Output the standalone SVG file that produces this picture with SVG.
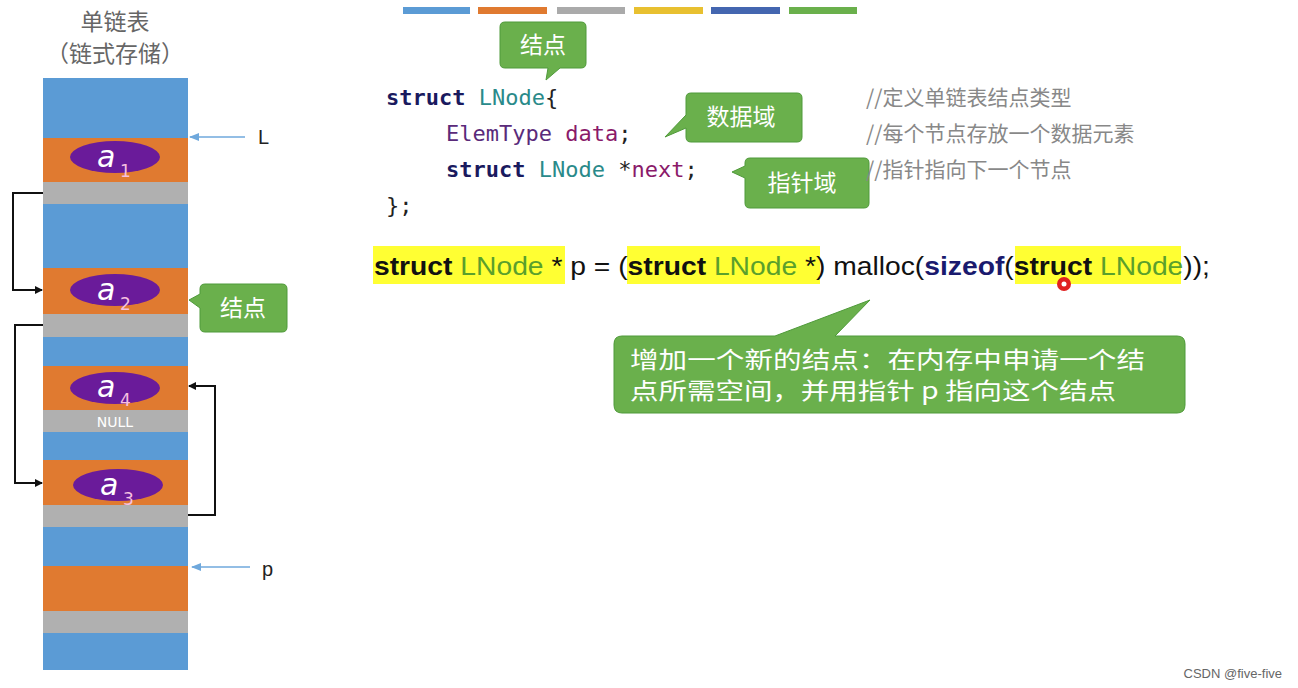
<svg xmlns="http://www.w3.org/2000/svg" width="1298" height="688" viewBox="0 0 1298 688">
<style>
.b{fill:#5b9bd5}.o{fill:#e07a30}.g{fill:#b0b0b0}
.e{fill:#6a1b9a}
.a{font-family:"DejaVu Sans",sans-serif;font-style:italic;fill:#fff;font-size:30px}
.sub{font-family:"DejaVu Sans",sans-serif;fill:#f6c0e0;font-size:17px}
.s{font-family:"DejaVu Sans",sans-serif;fill:#fff;font-size:14px}
.cn{font-family:"Noto Sans CJK SC",sans-serif}
.cb{fill:#6ab04c;stroke:#4f9a3a;stroke-width:1}
.ct{font-family:"Noto Sans CJK SC",sans-serif;fill:#fff;font-size:23px}
.code{font-family:"DejaVu Sans Mono",monospace;font-size:22px}
.cm{font-family:"Noto Sans CJK SC",sans-serif;font-size:21px;fill:#888}
.ln{font-family:"Liberation Sans",sans-serif;font-size:25px}
.k{fill:none;stroke:#111;stroke-width:2}
</style>
<defs>
<marker id="ah" markerWidth="8" markerHeight="8" refX="7" refY="4" orient="auto" markerUnits="userSpaceOnUse"><path d="M0,0L8,4L0,8z" fill="#111"/></marker>
<marker id="bh" markerWidth="10" markerHeight="8" refX="9" refY="4" orient="auto" markerUnits="userSpaceOnUse"><path d="M0,0L10,4L0,8z" fill="#6fa8dc"/></marker>
</defs>
<rect width="1298" height="688" fill="#fff"/>
<g id="title"><text x="115" y="30" text-anchor="middle" class="cn" font-size="23" fill="#666">单链表</text><text x="115" y="62" text-anchor="middle" class="cn" font-size="23" fill="#666">（链式存储）</text></g>
<g id="memory">
<rect class="b" x="43" y="78" width="145" height="60"/>
<rect class="o" x="43" y="138" width="145" height="44"/>
<rect class="g" x="43" y="182" width="145" height="22"/>
<rect class="b" x="43" y="204" width="145" height="64"/>
<rect class="o" x="43" y="268" width="145" height="46"/>
<rect class="g" x="43" y="314" width="145" height="23"/>
<rect class="b" x="43" y="337" width="145" height="29"/>
<rect class="o" x="43" y="366" width="145" height="44"/>
<rect class="g" x="43" y="410" width="145" height="22"/>
<rect class="b" x="43" y="432" width="145" height="28"/>
<rect class="o" x="43" y="460" width="145" height="45"/>
<rect class="g" x="43" y="505" width="145" height="22"/>
<rect class="b" x="43" y="527" width="145" height="39"/>
<rect class="o" x="43" y="566" width="145" height="45"/>
<rect class="g" x="43" y="611" width="145" height="22"/>
<rect class="b" x="43" y="633" width="145" height="37"/>
<text x="115" y="427" text-anchor="middle" class="s">NULL</text>
</g>
<g id="a1"><ellipse class="e" cx="115" cy="157" rx="45" ry="16"/><text x="97" y="167" class="a">a</text><text x="120" y="177" class="sub">1</text></g>
<g id="a2"><ellipse class="e" cx="115" cy="290" rx="45" ry="16"/><text x="97" y="300" class="a">a</text><text x="120" y="310" class="sub">2</text></g>
<g id="a4"><ellipse class="e" cx="115" cy="388" rx="45" ry="16"/><text x="97" y="397" class="a">a</text><text x="120" y="406" class="sub">4</text></g>
<g id="a3"><ellipse class="e" cx="118" cy="485" rx="45" ry="16"/><text x="100" y="495" class="a">a</text><text x="123" y="505" class="sub">3</text></g>
<g id="connectors">
<path class="k" d="M43,193H13V290H42" marker-end="url(#ah)"/>
<path class="k" d="M43,325H15V483H42" marker-end="url(#ah)"/>
<path class="k" d="M188,515H215V386H189" marker-end="url(#ah)"/>
<path d="M245,137H190" stroke="#6fa8dc" stroke-width="1.5" marker-end="url(#bh)"/>
<path d="M250,567H192" stroke="#6fa8dc" stroke-width="1.5" marker-end="url(#bh)"/>
</g>
<text x="258" y="144" font-family="Liberation Sans,sans-serif" font-size="20" fill="#222">L</text>
<text x="262" y="576" font-family="Liberation Sans,sans-serif" font-size="20" fill="#222">p</text>
<g id="callout-node-left"><path class="cb" d="M205,284H282Q287,284 287,289V327Q287,332 282,332H205Q200,332 200,327V308L189,300L200,294V289Q200,284 205,284z"/><text x="243" y="316" text-anchor="middle" class="ct">结点</text></g>
<g id="bars">
<rect x="403" y="7" width="67" height="7" fill="#5b9bd5"/>
<rect x="478" y="7" width="69" height="7" fill="#e07a30"/>
<rect x="557" y="7" width="68" height="7" fill="#aaaaaa"/>
<rect x="634" y="7" width="69" height="7" fill="#e8c030"/>
<rect x="711" y="7" width="69" height="7" fill="#4466b0"/>
<rect x="789" y="7" width="68" height="7" fill="#6ab04c"/>
</g>
<g id="callout-node-top"><path class="cb" d="M505,22H581Q586,22 586,27V63Q586,68 581,68H560L546,80L548,68H505Q500,68 500,63V27Q500,22 505,22z"/><text x="543" y="53" text-anchor="middle" class="ct">结点</text></g>
<g id="callout-data"><path class="cb" d="M691,93H797Q802,93 802,98V137Q802,142 797,142H691Q686,142 686,137V128L665,137L686,115V98Q686,93 691,93z"/><text x="741" y="125" text-anchor="middle" class="ct">数据域</text></g>
<g id="callout-next"><path class="cb" d="M750,158H864Q869,158 869,163V203Q869,208 864,208H750Q745,208 745,203V178L732,172L745,166V163Q745,158 750,158z"/><text x="802" y="191" text-anchor="middle" class="ct">指针域</text></g>
<g id="code" class="code">
<text x="386" y="105"><tspan fill="#1a1a5e" font-weight="bold">struct</tspan> <tspan fill="#2a8a8a">LNode</tspan><tspan fill="#222">{</tspan></text>
<text x="446" y="141"><tspan fill="#5a2a7a">ElemType</tspan> <tspan fill="#8a1a6a">data</tspan><tspan fill="#222">;</tspan></text>
<text x="446" y="177"><tspan fill="#1a1a5e" font-weight="bold">struct</tspan> <tspan fill="#2a8a8a">LNode</tspan> <tspan fill="#222">*</tspan><tspan fill="#8a1a6a">next</tspan><tspan fill="#222">;</tspan></text>
<text x="386" y="213" fill="#222">};</text>
</g>
<g id="comments" class="cm">
<text x="866" y="105">//定义单链表结点类型</text>
<text x="866" y="141">//每个节点存放一个数据元素</text>
<text x="866" y="177">//指针指向下一个节点</text>
</g>
<g id="malloc">
<rect x="373" y="246" width="192" height="38" fill="#ffff33"/>
<rect x="627" y="246" width="193" height="38" fill="#ffff33"/>
<rect x="1015" y="246" width="166" height="38" fill="#ffff33"/>
<text x="374" y="275" class="ln" textLength="836" lengthAdjust="spacingAndGlyphs"><tspan fill="#111" font-weight="bold">struct</tspan><tspan fill="#5aa02c"> LNode</tspan><tspan fill="#111"> * p = (</tspan><tspan fill="#111" font-weight="bold">struct</tspan><tspan fill="#5aa02c"> LNode</tspan><tspan fill="#111"> *) malloc(</tspan><tspan fill="#1a1a6e" font-weight="bold">sizeof</tspan><tspan fill="#111">(</tspan><tspan fill="#111" font-weight="bold">struct</tspan><tspan fill="#5aa02c"> LNode</tspan><tspan fill="#111">));</tspan></text>
<circle cx="1064" cy="284" r="7" fill="#e02020"/><circle cx="1064" cy="284" r="2.5" fill="#fff"/>
</g>
<g id="callout-malloc"><path class="cb" d="M622,336H775L870,300L835,336H1177Q1185,336 1185,344V405Q1185,413 1177,413H622Q614,413 614,405V344Q614,336 622,336z"/>
<text x="630" y="368" class="ct" font-size="24" textLength="515" lengthAdjust="spacingAndGlyphs">增加一个新的结点：在内存中申请一个结</text>
<text x="630" y="399" class="ct" font-size="24" textLength="486" lengthAdjust="spacingAndGlyphs">点所需空间，并用指针 p 指向这个结点</text></g>
<text x="1282" y="678" text-anchor="end" font-family="Liberation Sans,sans-serif" font-size="13" fill="#666">CSDN @five-five</text>
</svg>
